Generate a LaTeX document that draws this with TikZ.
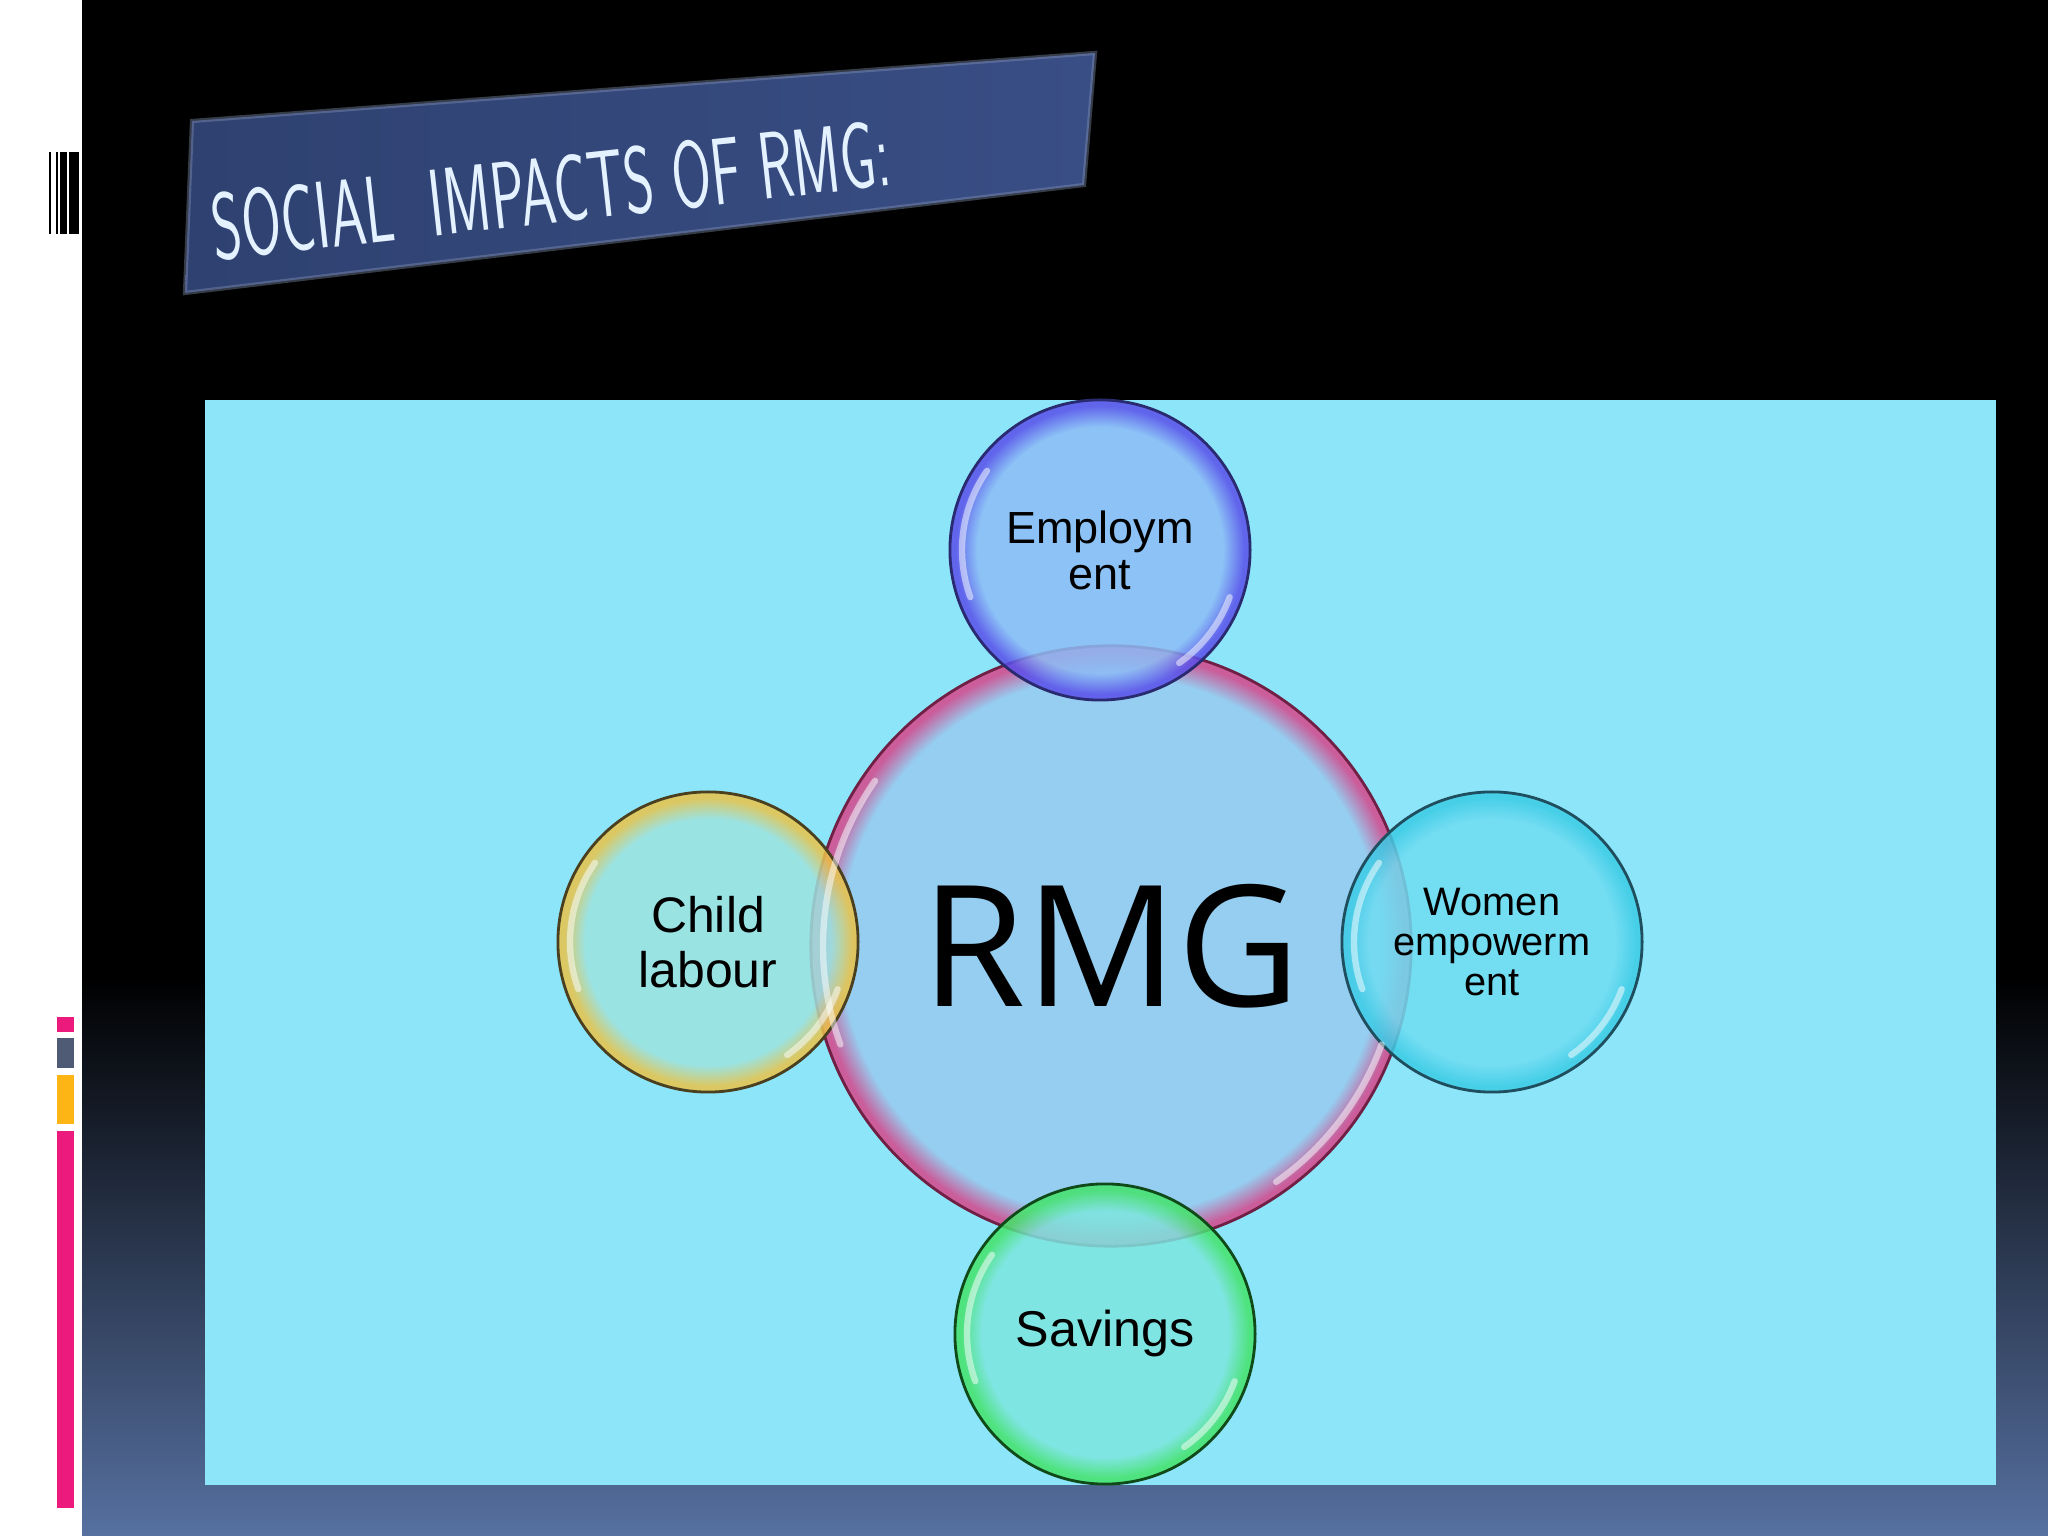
\documentclass[tikz,border=0pt]{standalone}
\usepackage{fontspec}
\setmainfont{Liberation Sans}
\newfontfamily\rmgfont{Open Sans}

\definecolor{fondcyan}{HTML}{8DE5FA}
\definecolor{fondbas}{HTML}{5670A0}
\definecolor{rose}{HTML}{EC1A7C}
\definecolor{ardoise}{HTML}{4F5A74}
\definecolor{orange}{HTML}{FDB515}
\definecolor{banniereA}{HTML}{2E4170}
\definecolor{banniereB}{HTML}{394E85}
\definecolor{titretexte}{HTML}{E4F2FF}

\definecolor{empfond}{HTML}{8CBCF6}
\definecolor{empanneau}{HTML}{5A4FEA}
\definecolor{empbord}{HTML}{2A2A70}
\definecolor{rmgfond}{HTML}{97CBF0}
\definecolor{rmganneau}{HTML}{D5468A}
\definecolor{rmgbord}{HTML}{702044}
\definecolor{childfond}{HTML}{9DE3E0}
\definecolor{childanneau}{HTML}{EAC348}
\definecolor{childbord}{HTML}{4A4020}
\definecolor{womenfond}{HTML}{6FDCF1}
\definecolor{womenanneau}{HTML}{3CCCE6}
\definecolor{womenbord}{HTML}{1F4E5E}
\definecolor{savfond}{HTML}{7DE5DE}
\definecolor{savanneau}{HTML}{45E36A}
\definecolor{savbord}{HTML}{104A18}

\pgfdeclareradialshading{ombreemp}{\pgfpoint{0bp}{0bp}}{color(0bp)=(empfond); color(20.5bp)=(empfond); color(24bp)=(empanneau); color(25bp)=(empanneau); color(50bp)=(empanneau)}
\pgfdeclareradialshading{ombrermg}{\pgfpoint{0bp}{0bp}}{color(0bp)=(rmgfond); color(22.5bp)=(rmgfond); color(24.5bp)=(rmganneau); color(25bp)=(rmganneau); color(50bp)=(rmganneau)}
\pgfdeclareradialshading{ombrechild}{\pgfpoint{0bp}{0bp}}{color(0bp)=(childfond); color(20.5bp)=(childfond); color(24bp)=(childanneau); color(25bp)=(childanneau); color(50bp)=(childanneau)}
\pgfdeclareradialshading{ombrewomen}{\pgfpoint{0bp}{0bp}}{color(0bp)=(womenfond); color(20.5bp)=(womenfond); color(24bp)=(womenanneau); color(25bp)=(womenanneau); color(50bp)=(womenanneau)}
\pgfdeclareradialshading{ombresav}{\pgfpoint{0bp}{0bp}}{color(0bp)=(savfond); color(20.5bp)=(savfond); color(24bp)=(savanneau); color(25bp)=(savanneau); color(50bp)=(savanneau)}

\begin{document}
\begin{tikzpicture}[
    x=0.01cm, y=0.01cm,
    bulle/.style={
      circle,
      inner sep=0pt,
      minimum size=3cm,
      line width=0.8pt,
      fill opacity=0.85,
      text opacity=1,
      align=center
    },
    reflet/.style={white, line width=1.8pt, opacity=0.5, line cap=round}
  ]

  \useasboundingbox (0,0) rectangle (2048,1536);

  % fond de la diapo
  \fill[black] (82,0) rectangle (2048,1536);
  \shade[top color=black, bottom color=fondbas] (82,0) rectangle (2048,560);
  \fill[white] (0,0) rectangle (82,1536);

  \foreach \a/\b in {49/51, 55.7/58, 60.3/66.7, 69/79.3}
    \fill[black] (\a,1302) rectangle (\b,1384);

  \fill[rose] (57,504) rectangle (74,519);
  \fill[ardoise] (57,468) rectangle (74,498);
  \fill[orange] (57,412) rectangle (74,461);
  \fill[rose] (57,28) rectangle (74,405);

  % titre
  \shade[left color=banniereA, right color=banniereB] (192,1415) -- (1095,1483) -- (1084,1351) -- (185,1243) -- cycle;
  \draw[banniereB!60!white, line width=1.2pt, opacity=0.4] (192,1415) -- (1095,1483) -- (1084,1351) -- (185,1243) -- cycle;
  \node (titre) at (551,1346) [rotate=6.3, text=titretexte, font=\sffamily\fontsize{27}{27}\selectfont]
    {\scalebox{0.6}[1]{SOCIAL\ \ IMPACTS OF RMG:}};

  \fill[fondcyan] (205,51) rectangle (1996,1136);

  \node (rmg) at (1111,590) [bulle, minimum size=6cm, shading=ombrermg, draw=rmgbord,
    font=\rmgfont\fontsize{48}{50}\selectfont]{RMG};

  \node (emp) at (1100,986) [bulle, shading=ombreemp, draw=empbord,
    font=\fontsize{12.8}{13.1}\selectfont]{Employm\\ent};
  \node (child) at (708,594) [bulle, shading=ombrechild, draw=childbord,
    font=\fontsize{14.2}{15.6}\selectfont]{Child\\labour};
  \node (women) at (1492,594) [bulle, shading=ombrewomen, draw=womenbord,
    font=\fontsize{11.3}{11.4}\selectfont]{Women\\empowerm\\ent};
  \node (savings) at (1105,202) [bulle, shading=ombresav, draw=savbord,
    font=\fontsize{14.3}{15}\selectfont]{Savings};

  \foreach \n/\r in {rmg/300, emp/150, child/150, women/150, savings/150} {
    \draw[reflet] ([shift={(145:\r-12)}]\n.center) arc (145:200:\r-12);
    \draw[reflet] ([shift={(-20:\r-12)}]\n.center) arc (-20:-55:\r-12);
  }

\end{tikzpicture}
\end{document}
